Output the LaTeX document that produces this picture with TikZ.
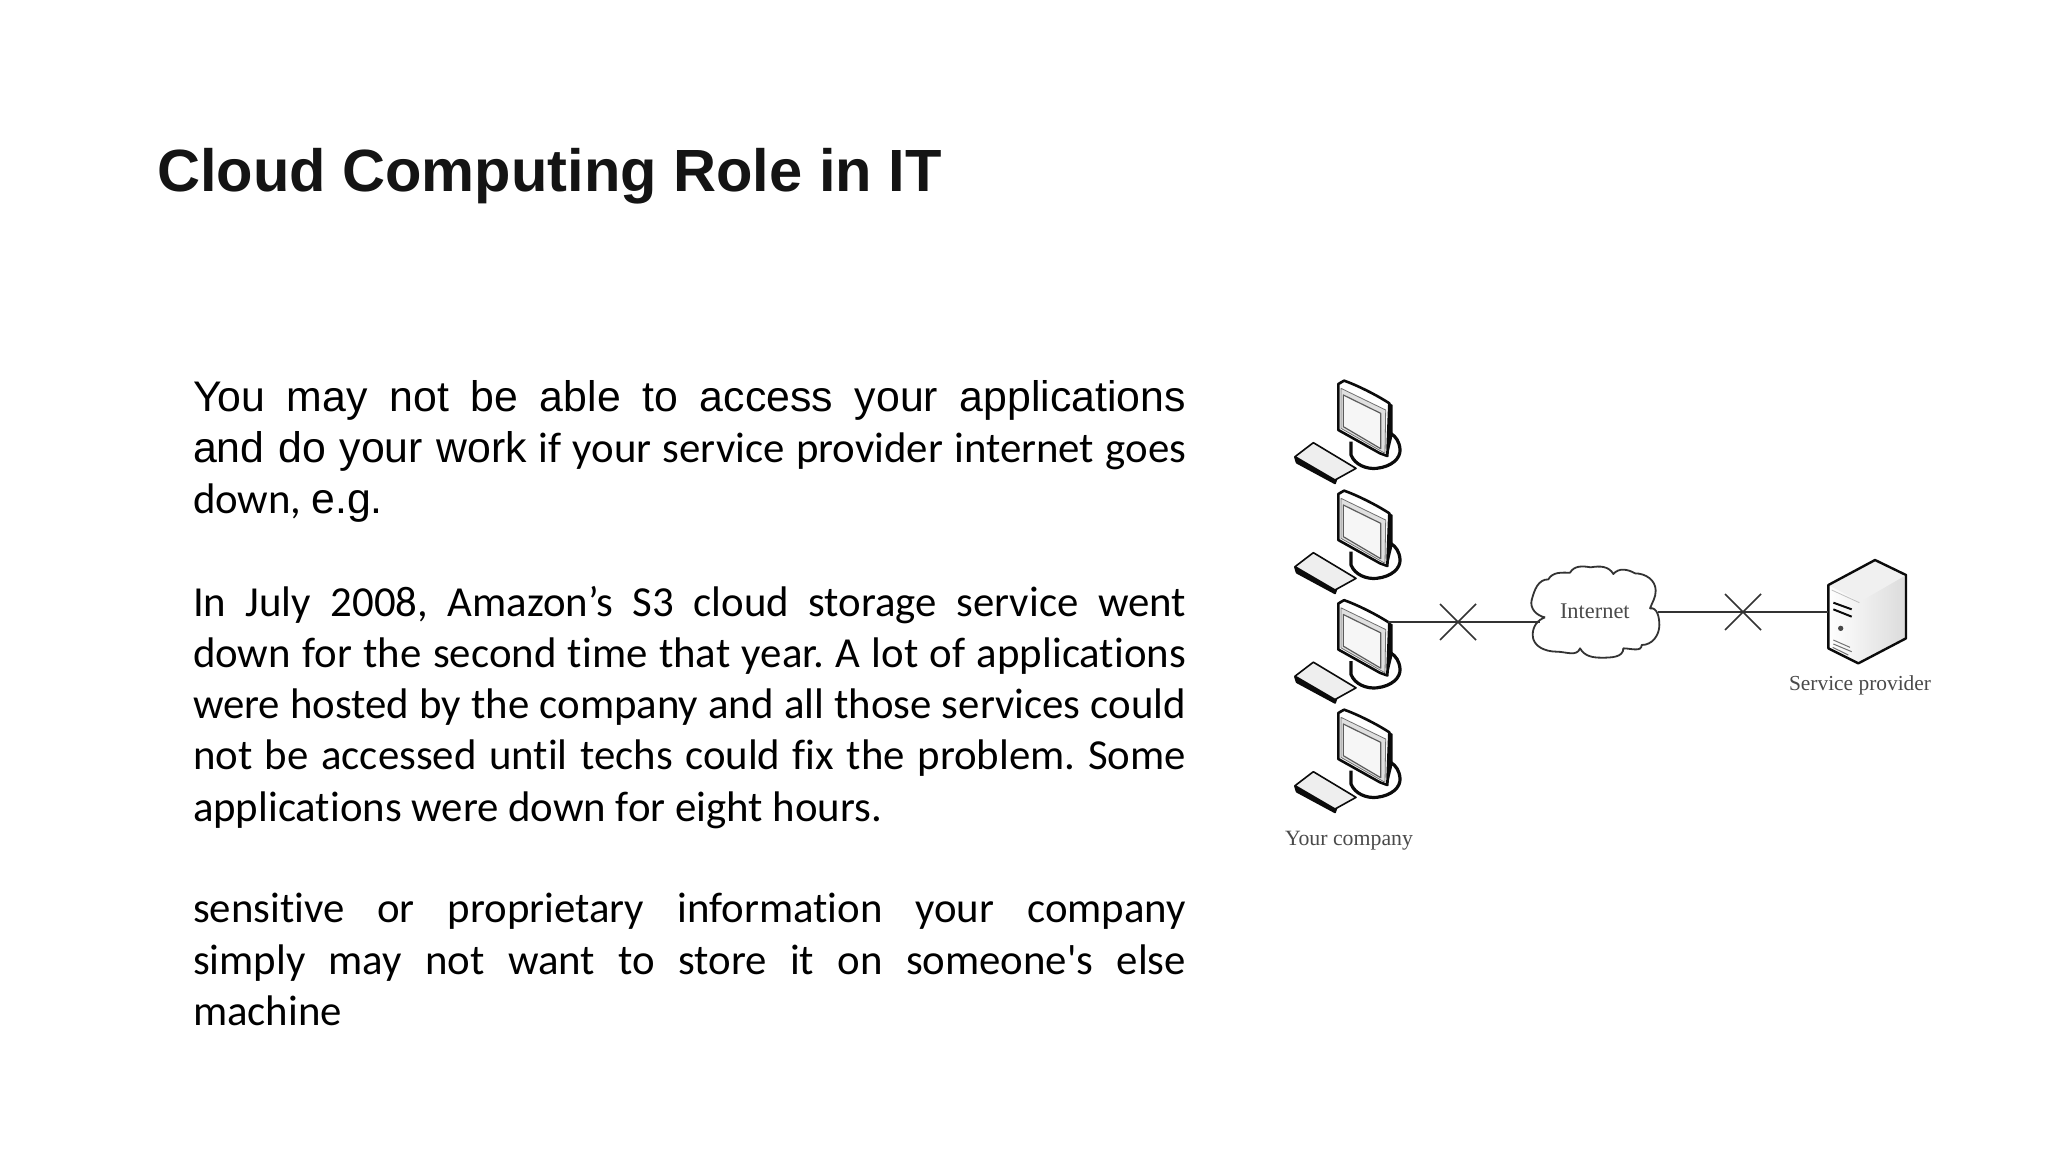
\documentclass[tikz,border=0pt]{standalone}
\usepackage{fontspec}
\setmainfont{Carlito}
\newfontfamily\bodyfont{Carlito}[Ligatures=NoCommon]
\newfontfamily\arial{Liberation Sans}
\newfontfamily\tms{Liberation Serif}
\definecolor{ink}{HTML}{0B0B0B}
\definecolor{labelgray}{HTML}{4A4A4A}
\definecolor{screenfill}{HTML}{F6F6F6}
\definecolor{bezel}{HTML}{E0E0E0}
\definecolor{keyfill}{HTML}{EEEEEE}
\definecolor{wire}{HTML}{333333}
\tikzset{
  para/.style={anchor=north west,inner sep=0pt,outer sep=0pt,text width=496.5pt,align=justify,font=\bodyfont\frenchspacing\fontsize{21.4}{25.6}\selectfont,text=black},
  lbl/.style={inner sep=0pt,outer sep=0pt,anchor=base west,text=labelgray},
  wireline/.style={draw=wire,line width=0.8pt},
  crossline/.style={draw=wire,line width=0.75pt},
  pics/computer/.style={code={
    % base and neck
    \draw[fill=white,draw=ink,line width=1.6pt,line join=round]
      (243,215) -- (243,255) .. controls (255,285) and (290,298) .. (320,295)
      .. controls (365,290) and (392,265) .. (390,238)
      .. controls (388,215) and (378,200) .. (362,190);
    % keyboard
    \draw[fill=ink,draw=ink,line width=0.9pt,line join=round]
      (75,262) -- (80,278) -- (195,340) -- (200,325) -- cycle;
    \draw[fill=keyfill,draw=ink,line width=0.8pt,line join=round]
      (75,260) -- (130,218) -- (258,295) -- (195,330) -- cycle;
    % monitor back
    \fill[ink] (352,95) -- (368,105) -- (368,195) -- (355,250) -- cycle;
    % monitor front
    \draw[fill=white,draw=ink,line width=1.3pt,line join=round]
      (205,42) -- (222,32) .. controls (260,45) and (320,75) .. (358,100)
      -- (352,258) -- (330,250) -- (205,180) -- cycle;
    \draw[fill=bezel,draw=wire!70,line width=0.4pt,line join=round]
      (213,55) -- (347,120) -- (345,250) -- (213,175) -- cycle;
    \draw[fill=screenfill,draw=wire!80,line width=0.6pt,line join=round]
      (220,75) -- (332,130) -- (332,236) -- (220,170) -- cycle;
  }}
}
\begin{document}
\begin{tikzpicture}[x=0.5pt,y=-0.5pt]
\useasboundingbox[fill=white] (0,0) rectangle (2048,1152);

\node[inner sep=0pt,outer sep=0pt,anchor=base west,text=black!92,font=\arial\bfseries\fontsize{29.8}{34}\selectfont] (title) at (157,191) {Cloud Computing Role in IT};

\node[para] (p1) at (193,380.5) {{\arial You may not be able to access your applications}\linebreak {\arial and do your work} if your service provider internet goes\linebreak down, {\arial e.g.}\par};
\node[para] (p2) at (193,586.1) {In July 2008, Amazon’s S3 cloud storage service went\linebreak down for the second time that year. A lot of applications\linebreak were hosted by the company and all those services could\linebreak not be accessed until techs could fix the problem. Some\linebreak applications were down for eight hours.\par};
\node[para] (p3) at (193,893.5) {sensitive or proprietary information your company\linebreak simply may not want to store it on someone's else\linebreak machine\par};

% computers
\begin{scope}[shift={(1270,370)},x=0.16667pt,y=-0.16667pt]\pic {computer};\end{scope}
\begin{scope}[shift={(1270,480)},x=0.16667pt,y=-0.16667pt]\pic {computer};\end{scope}
\begin{scope}[shift={(1270,589.5)},x=0.16667pt,y=-0.16667pt]\pic {computer};\end{scope}
\begin{scope}[shift={(1270,699)},x=0.16667pt,y=-0.16667pt]\pic {computer};\end{scope}

% named connector ends
\coordinate (pcport) at (1388,622);
\coordinate (cloudL) at (1540,622);
\coordinate (cloudR) at (1658,612);
\coordinate (srvport) at (1828,612);
\coordinate (xa) at (1458,622);
\coordinate (xb) at (1743,612);

% server
\begin{scope}[shift={(1740,540)},x=0.16667pt,y=-0.16667pt]
  \path[left color=white,right color=black!14]
    (265,135) -- (405,60) -- (498,105) -- (498,295) -- (355,370) -- (265,325) -- cycle;
  \fill[black!6] (405,60) -- (498,105) -- (360,185) -- (265,135) -- cycle;
  \draw[ink,line width=1.2pt,line join=round]
    (265,135) -- (405,60) -- (498,105) -- (498,295) -- (355,370) -- (265,325) -- cycle;
  \draw[black!25,line width=0.4pt] (275,150) -- (358,188);
  \draw[ink,line width=1pt] (280,188) -- (335,208) (280,208) -- (335,230);
  \fill[ink!75] (302,265) circle (8);
  \draw[black!55,line width=0.5pt] (280,300) -- (330,322) (280,312) -- (335,335) (278,322) -- (325,345);
\end{scope}

% cloud
\begin{scope}[shift={(1270,560)},x=0.16667pt,y=-0.16667pt]
  \draw[fill=white,draw=wire,line width=0.9pt,line join=round]
    (825,172) to[out=170,in=255] (785,120) to[out=75,in=180] (835,58)
    to[out=60,in=180] (900,38) to[out=60,in=170] (962,22)
    to[out=10,in=120] (1030,42) to[out=50,in=150] (1095,40)
    to[out=0,in=90] (1157,92) to[out=270,in=70] (1140,145)
    to[out=10,in=90] (1168,195) to[out=270,in=0] (1115,255)
    to[out=270,in=0] (1060,265) to[out=270,in=0] (995,293)
    to[out=180,in=300] (930,265) to[out=250,in=0] (860,275)
    to[out=180,in=270] (788,225) to[out=90,in=200] (825,172);
\end{scope}

% connectors
\draw[wireline] (pcport) -- (cloudL);
\draw[wireline] (cloudR) -- (srvport);
\draw[crossline] ([shift={(-18,-18)}]xa) -- ([shift={(18,18)}]xa);
\draw[crossline] ([shift={(-18,18)}]xa) -- ([shift={(18,-18)}]xa);
\draw[crossline] ([shift={(-18,-18)}]xb) -- ([shift={(18,18)}]xb);
\draw[crossline] ([shift={(-18,18)}]xb) -- ([shift={(18,-18)}]xb);

% labels
\node[lbl,font=\tms\fontsize{11.2}{13}\selectfont] (internet) at (1560,618.5) {Internet};
\node[lbl,font=\tms\fontsize{10.7}{13}\selectfont] (service) at (1789,690) {Service provider};
\node[lbl,font=\tms\fontsize{10.9}{13}\selectfont] (company) at (1285,845) {Your company};
\end{tikzpicture}
\end{document}
